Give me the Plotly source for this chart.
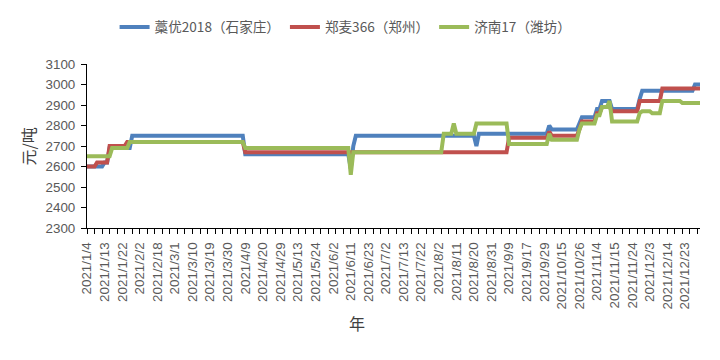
import pandas as pd
import plotly.graph_objects as go

# ---- categories: trading dates of 2021 ----
year_start = "2021-01-04"
year_end = "2021-12-31"
holidays = ["2021-02-11", "2021-02-12", "2021-02-15", "2021-02-16", "2021-02-17",
            "2021-04-05", "2021-05-03", "2021-05-04", "2021-05-05", "2021-06-14",
            "2021-09-20", "2021-09-21", "2021-10-01", "2021-10-04", "2021-10-05",
            "2021-10-06", "2021-10-07"]
extra_dates = ["2021-09-11", "2021-09-18"]

# ---- series as runs of (value, number of dates) ----
blue_name = "藁优2018（石家庄）"
blue_vals = [2600, 2620, 2690, 2750, 2660, 2590, 2700, 2750, 2700, 2760, 2800, 2780,
             2810, 2840, 2880, 2920, 2880, 2930, 2970, 3000]
blue_runs = [7, 2, 9, 45, 42, 1, 1, 48, 1, 28, 1, 11, 1, 6, 2, 4, 11, 1, 21, 3]

red_name = "郑麦366（郑州）"
red_vals = [2600, 2620, 2700, 2720, 2670, 2740, 2770, 2750, 2780, 2820, 2860, 2890,
            2870, 2920, 2980]
red_runs = [4, 5, 7, 47, 105, 16, 1, 11, 1, 6, 2, 4, 11, 9, 16]

green_name = "济南17（潍坊）"
green_vals = [2650, 2690, 2720, 2690, 2560, 2670, 2760, 2810, 2760, 2810, 2710, 2760,
              2730, 2780, 2810, 2850, 2890, 2920, 2820, 2860, 2870, 2860, 2920, 2910]
green_runs = [10, 7, 46, 42, 1, 36, 4, 1, 8, 13, 16, 1, 11, 1, 6, 2, 3, 1, 11, 1, 4, 4, 8, 8]

label_step = 7
tick_step = 3

# ---- build ----
days = pd.bdate_range(year_start, year_end)
days = days[~days.isin(pd.to_datetime(holidays))]
days = days.union(pd.to_datetime(extra_dates))
dates = [f"{d.year}/{d.month}/{d.day}" for d in days]


def expand(vals, runs):
    out = []
    for v, n in zip(vals, runs):
        out += [v] * n
    return out


n = len(dates)
fig = go.Figure()
for name, vals, runs, color in [(blue_name, blue_vals, blue_runs, "#4F81BD"),
                                (red_name, red_vals, red_runs, "#C0504D"),
                                (green_name, green_vals, green_runs, "#9BBB59")]:
    fig.add_trace(go.Scatter(x=dates, y=expand(vals, runs), name=name, mode="lines",
                             line=dict(color=color, width=4), hoverinfo="skip"))

# invisible helper trace carrying the minor tick axis
fig.add_trace(go.Scatter(x=[0, n - 1], y=[2300, 2300], xaxis="x2", mode="lines",
                         line=dict(width=0), opacity=0, showlegend=False, hoverinfo="skip"))

grey = "#595959"
fig.update_layout(
    width=720, height=360,
    margin=dict(l=87, r=20, t=54, b=132),
    paper_bgcolor="white", plot_bgcolor="white",
    font=dict(family="Liberation Sans, Arial, sans-serif", color=grey, size=13),
    showlegend=True,
    legend=dict(orientation="h", x=0.045, xanchor="left", y=1.225, yanchor="middle",
                font=dict(family="Noto Sans CJK SC", size=13.6, color=grey),
                itemwidth=30, tracegroupgap=0, bgcolor="rgba(0,0,0,0)"),
    xaxis=dict(type="category", range=[0, n - 1], tickmode="array",
               tickvals=dates[::label_step], ticktext=dates[::label_step],
               tickangle=-90, ticks="outside", ticklen=8, tickcolor="rgba(0,0,0,0)",
               showline=True, linecolor="black", linewidth=1, showgrid=False,
               zeroline=False, tickfont=dict(size=13.4, color=grey)),
    xaxis2=dict(overlaying="x", anchor="y", side="bottom", range=[0, n - 1],
                tickmode="linear", tick0=0, dtick=tick_step, ticks="outside",
                ticklen=5, tickcolor="black", showticklabels=False, showline=False,
                showgrid=False, zeroline=False),
    yaxis=dict(range=[2300, 3100], tickmode="linear", tick0=2300, dtick=100,
               ticks="outside", ticklen=5, tickcolor="black", showline=True,
               linecolor="black", linewidth=1, showgrid=False, zeroline=False,
               ticklabelstandoff=3, tickfont=dict(size=13.4, color=grey)),
    annotations=[
        dict(text="元/吨", textangle=-90, xref="paper", yref="paper",
             x=-0.0955, y=0.5, xanchor="center", yanchor="middle", showarrow=False,
             font=dict(family="Noto Sans CJK SC", size=16, color="#404040")),
        dict(text="年", xref="paper", yref="paper", x=0.4405, y=-0.577,
             xanchor="center", yanchor="middle", showarrow=False,
             font=dict(family="Noto Sans CJK SC", size=16, color="#404040")),
    ],
)

fig.write_html("out.html")
